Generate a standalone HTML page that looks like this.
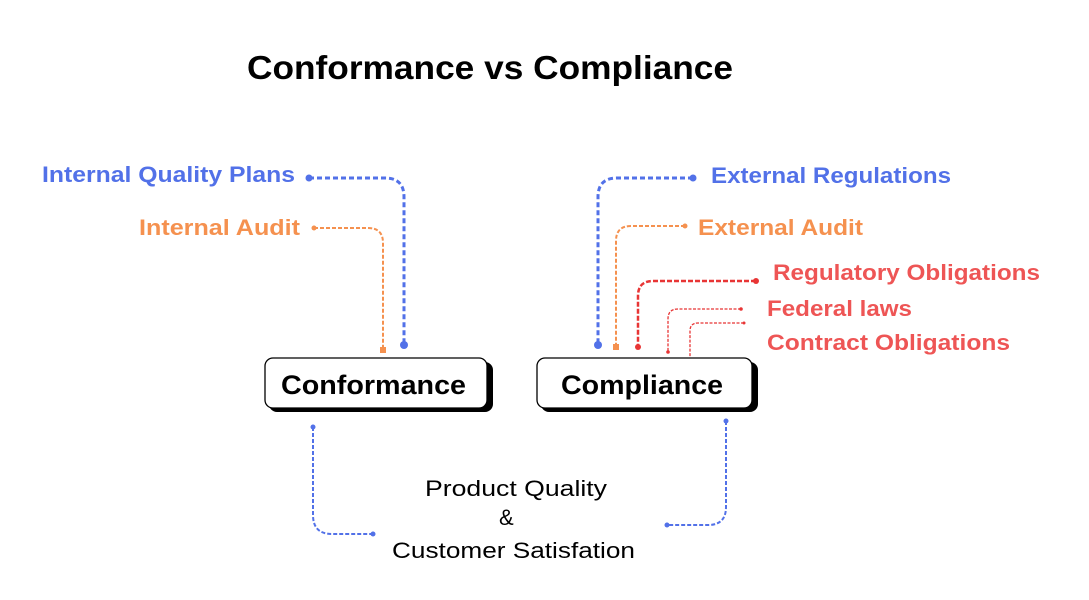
<!DOCTYPE html>
<html><head><meta charset="utf-8"><style>
html,body{margin:0;padding:0;background:#fff;}
svg{display:block;}
text{font-family:"Liberation Sans",sans-serif;}
</style></head><body>
<svg width="1089" height="600" viewBox="0 0 1089 600" xmlns="http://www.w3.org/2000/svg">
<rect width="1089" height="600" fill="#fff"/>
<text x="247" y="79" font-size="33" font-weight="bold" fill="#000" textLength="486" lengthAdjust="spacingAndGlyphs">Conformance vs Compliance</text>

<g font-weight="bold" font-size="22">
<text x="42" y="182" fill="#5271e8" textLength="253" lengthAdjust="spacingAndGlyphs">Internal Quality Plans</text>
<text x="139" y="235" fill="#f5914f" textLength="161" lengthAdjust="spacingAndGlyphs">Internal Audit</text>
<text x="711" y="183" fill="#5271e8" textLength="240" lengthAdjust="spacingAndGlyphs">External Regulations</text>
<text x="698" y="235" fill="#f5914f" textLength="165" lengthAdjust="spacingAndGlyphs">External Audit</text>
<text x="773" y="280" fill="#ee5555" textLength="267" lengthAdjust="spacingAndGlyphs">Regulatory Obligations</text>
<text x="767" y="316" fill="#ee5555" textLength="145" lengthAdjust="spacingAndGlyphs">Federal laws</text>
<text x="767" y="350" fill="#ee5555" textLength="243" lengthAdjust="spacingAndGlyphs">Contract Obligations</text>
</g>

<g fill="none" stroke-linecap="butt">
<path d="M309 178 H385 Q404 178 404 197 V345" stroke="#5271e8" stroke-width="3" stroke-dasharray="5 3"/>
<path d="M314 228 H368 Q383 228 383 243 V350" stroke="#f5914f" stroke-width="2" stroke-dasharray="4 2"/>
<path d="M693 178 H617 Q598 178 598 197 V345" stroke="#5271e8" stroke-width="3" stroke-dasharray="5 3"/>
<path d="M685 226 H631 Q616 226 616 241 V347" stroke="#f5914f" stroke-width="2" stroke-dasharray="4 2"/>
<path d="M756 281 H653 Q638 281 638 296 V347" stroke="#e83535" stroke-width="2.5" stroke-dasharray="5 2"/>
<path d="M741 309 H678 Q668 309 668 319 V352" stroke="#e83535" stroke-width="1.3" stroke-dasharray="3 1.5"/>
<path d="M744 323 H698 Q690 323 690 331 V358" stroke="#e83535" stroke-width="1.3" stroke-dasharray="3 1.5"/>
<path d="M313 427 V515 Q313 534 332 534 H373" stroke="#5271e8" stroke-width="2" stroke-dasharray="4 2"/>
<path d="M726 421 V507 Q726 525 708 525 H667" stroke="#5271e8" stroke-width="2" stroke-dasharray="4 2"/>
</g>
<g fill="#5271e8">
<circle cx="309" cy="178" r="3.5"/><circle cx="404" cy="345" r="4"/>
<circle cx="693" cy="178" r="3.5"/><circle cx="598" cy="345" r="4"/>
<circle cx="313" cy="427" r="2.5"/><circle cx="373" cy="534" r="2.5"/>
<circle cx="726" cy="421" r="2.5"/><circle cx="667" cy="525" r="2.5"/>
</g>
<g fill="#f5914f">
<circle cx="314" cy="228" r="2.5"/><rect x="380" y="347" width="6" height="6"/>
<circle cx="685" cy="226" r="2.5"/><rect x="613" y="344" width="6" height="6"/>
</g>
<g fill="#e83535">
<circle cx="756" cy="281" r="3"/><circle cx="638" cy="347" r="3"/>
<circle cx="741" cy="309" r="1.8"/><circle cx="668" cy="352" r="1.8"/>
<circle cx="744" cy="323" r="1.5"/>
</g>

<rect x="269" y="362" width="224" height="50" rx="8" fill="#000"/>
<rect x="265" y="358" width="222" height="50" rx="8" fill="#fff" stroke="#000" stroke-width="1.3"/>
<text x="281" y="394" font-size="27" font-weight="bold" fill="#000" textLength="185" lengthAdjust="spacingAndGlyphs">Conformance</text>

<rect x="541" y="362" width="217" height="50" rx="8" fill="#000"/>
<rect x="537" y="358" width="215" height="50" rx="8" fill="#fff" stroke="#000" stroke-width="1.3"/>
<text x="561" y="394" font-size="27" font-weight="bold" fill="#000" textLength="162" lengthAdjust="spacingAndGlyphs">Compliance</text>

<g font-size="22" fill="#000">
<text x="425" y="496" textLength="182" lengthAdjust="spacingAndGlyphs">Product Quality</text>
<text x="499" y="525">&amp;</text>
<text x="392" y="558" textLength="243" lengthAdjust="spacingAndGlyphs">Customer Satisfation</text>
</g>
</svg>
</body></html>
